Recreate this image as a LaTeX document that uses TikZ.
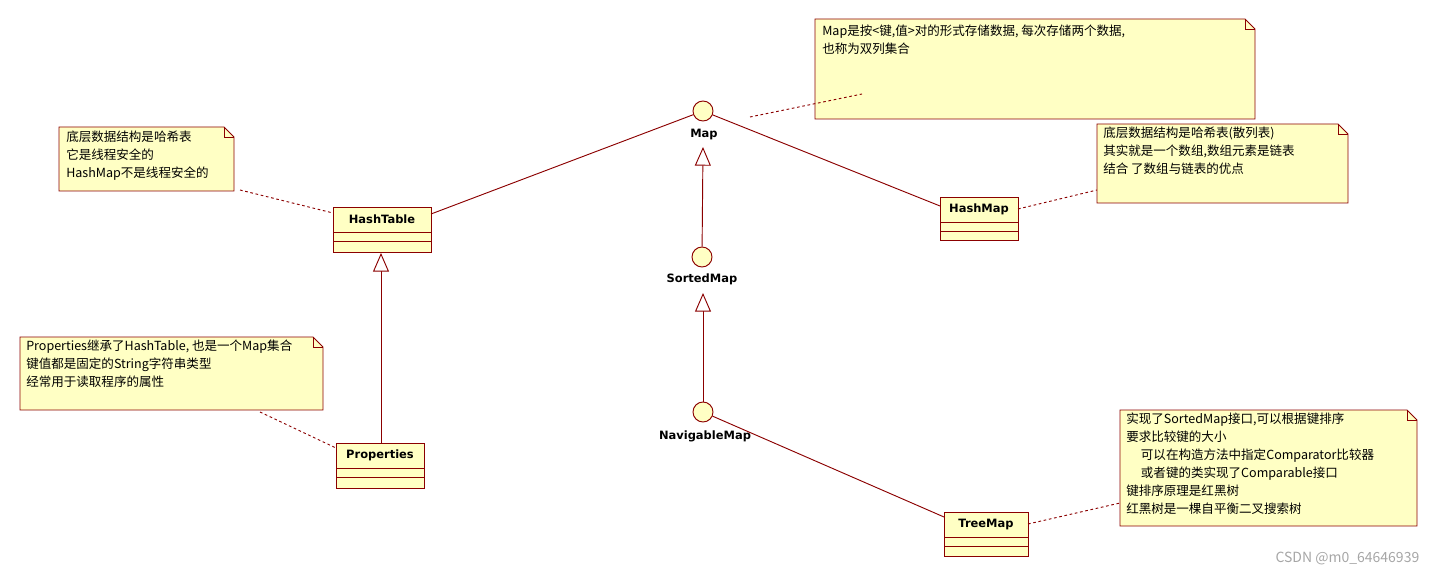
\documentclass[tikz,border=0pt]{standalone}
\usepackage{fontspec}
\setmainfont{Noto Sans CJK SC}
\newfontfamily\clsfont{DejaVu Sans}
\usetikzlibrary{arrows.meta}
\definecolor{uyel}{HTML}{FFFFC4}
\definecolor{ured}{HTML}{8B0000}
\tikzset{
  x=0.75pt,y=-0.75pt,
  shp/.style={draw=ured,fill=uyel,line width=0.7pt},
  ln/.style={draw=ured,line width=0.7pt},
  dsh/.style={draw=ured,line width=0.7pt,dash pattern=on 2pt off 2pt},
  gen/.style={draw=ured,line width=0.7pt,-{Triangle[open,length=14pt,width=12pt,fill=white]}},
  notetxt/.style={anchor=north west,inner sep=0pt,align=left,font=\fontsize{9.4}{13.5}\selectfont},
  clsname/.style={font=\clsfont\bfseries\fontsize{8.6}{10}\selectfont},
  iflabel/.style={font=\clsfont\bfseries\fontsize{8.6}{10}\selectfont}
}
\newcommand\umlnote[4]{\path[shp] (#1,#2) -- (#3-10,#2) -- (#3,#2+10) -- (#3,#4) -- (#1,#4) -- cycle;
  \draw[ured,line width=0.7pt] (#3-10,#2) -- (#3-10,#2+10) -- (#3,#2+10);}
\newcommand\umlclass[6]{% name x1 y1 x2 y2 text
  \path[shp] (#2,#3) rectangle (#4,#5);
  \draw[ured,line width=0.7pt] (#2,#3+25) -- (#4,#3+25) (#2,#3+34) -- (#4,#3+34);
  \node[clsname] (#1) at ({(#2+#4)/2},#3+12.5) {#6};
  \coordinate (#1-c) at ({(#2+#4)/2},{(#3+#5)/2});}
\begin{document}
\begin{tikzpicture}
\useasboundingbox (0,0) rectangle (1438,577);
% interfaces
\node[circle,shp,minimum size=15pt,inner sep=0pt] (map) at (703,111) {};
\node[iflabel] (maplbl) at (704,135) {Map};
\node[circle,shp,minimum size=15pt,inner sep=0pt] (smap) at (702,257) {};
\node[iflabel] (smaplbl) at (702,279) {SortedMap};
\node[circle,shp,minimum size=15pt,inner sep=0pt] (nmap) at (703,412) {};
\node[iflabel] (nmaplbl) at (705,436) {NavigableMap};
% classes
\umlclass{ht}{333}{207}{431}{252}{HashTable}
\umlclass{hm}{940}{197}{1018}{240}{HashMap}
\umlclass{pr}{336}{443}{424}{488}{Properties}
\umlclass{tm}{944}{512}{1028}{556}{TreeMap}
% connectors
\draw[ln] (map) -- (431,214);
\draw[ln] (map) -- (940,206);
\draw[gen] (smap) -- (703,147);
\draw[gen] (nmap) -- (703,293);
\draw[gen] (381,443) -- (381,253);
\draw[ln] (nmap) -- (944,517);
% notes
\umlnote{815}{19}{1255}{119}
\node[notetxt] (n1) at (822,25) {Map是按<键,值>对的形式存储数据, 每次存储两个数据,\\也称为双列集合};
\umlnote{59}{127}{234}{191}
\node[notetxt] (n2) at (66,131) {底层数据结构是哈希表\\它是线程安全的\\HashMap不是线程安全的};
\umlnote{1097}{124}{1348}{203}
\node[notetxt] (n3) at (1103,127) {底层数据结构是哈希表(散列表)\\其实就是一个数组,数组元素是链表\\结合 了数组与链表的优点};
\umlnote{20}{337}{323}{410}
\node[notetxt] (n4) at (26,340) {Properties继承了HashTable, 也是一个Map集合\\键值都是固定的String字符串类型\\经常用于读取程序的属性};
\umlnote{1120}{410}{1417}{526}
\node[notetxt] (n5) at (1126,413) {实现了SortedMap接口,可以根据键排序\\要求比较键的大小\\\hspace*{11pt}可以在构造方法中指定Comparator比较器\\\hspace*{11pt}或者键的类实现了Comparable接口\\键排序原理是红黑树\\红黑树是一棵自平衡二叉搜索树};
% dashed links
\draw[dsh] (750,117) -- (862,94);
\draw[dsh] (240,190) -- (333,213);
\draw[dsh] (1018,209) -- (1097,190);
\draw[dsh] (260,412) -- (336,448);
\draw[dsh] (1028,524) -- (1120,503);
\node[anchor=east,text=gray!70,font=\fontsize{10.5}{12}\selectfont] (wm) at (1424,558) {CSDN @m0\_64646939};
\end{tikzpicture}
\end{document}
